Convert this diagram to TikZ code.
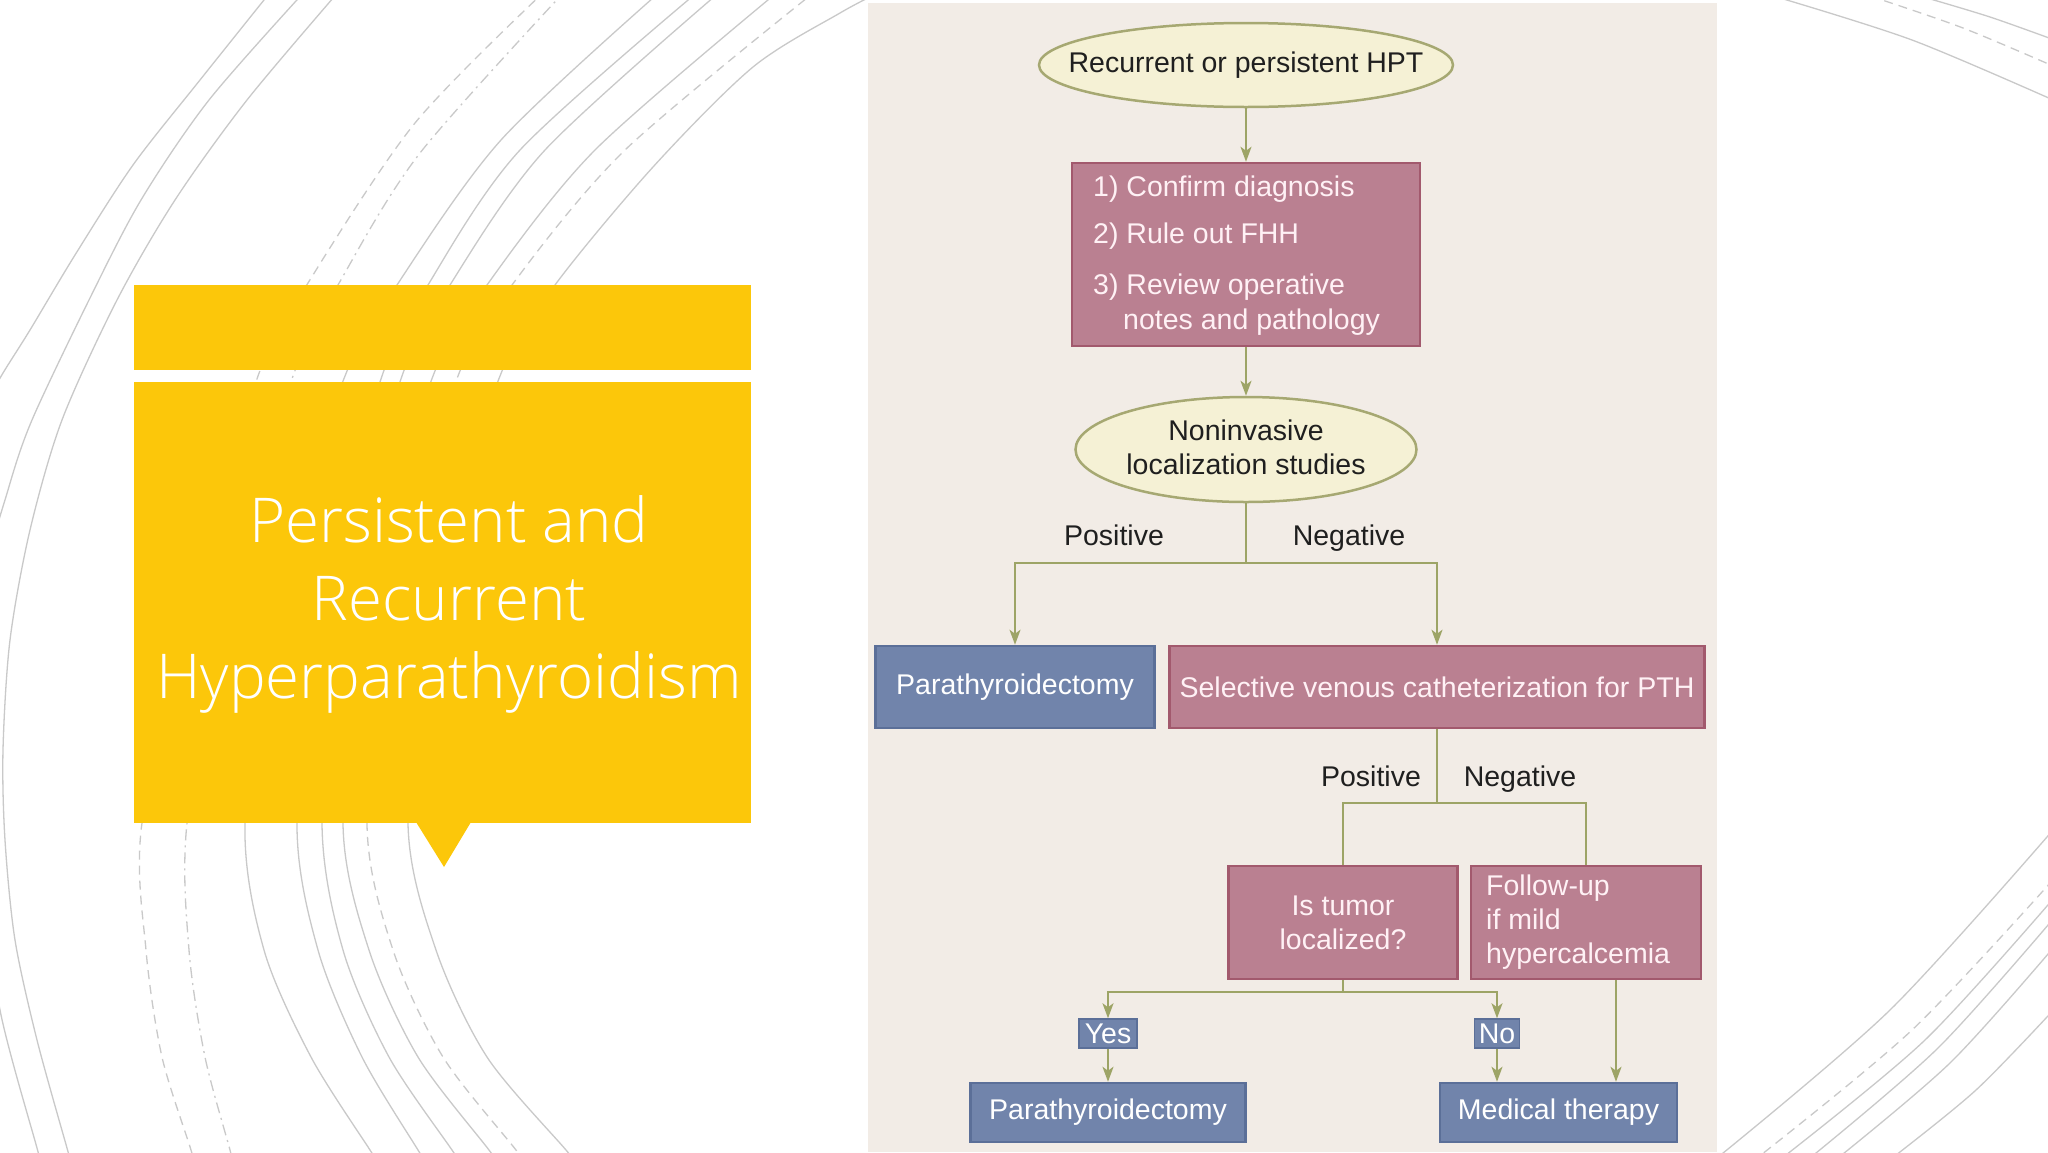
\documentclass[tikz,border=0pt]{standalone}
\usepackage{fontspec}
\setmainfont{Liberation Sans}
\IfFontExistsTF{Open Sans Light}
  {\newfontfamily\titlefont{Open Sans Light}\newcommand\ttlsize{\fontsize{61.8pt}{78pt}\selectfont}}
  {\IfFontExistsTF{Noto Sans Light}
    {\newfontfamily\titlefont{Noto Sans Light}\newcommand\ttlsize{\fontsize{61.8pt}{78pt}\selectfont}}
    {\newfontfamily\titlefont{Carlito}\newcommand\ttlsize{\fontsize{68pt}{78pt}\selectfont}}}
\usetikzlibrary{arrows.meta,shapes.geometric}
\definecolor{yel}{HTML}{FCC70A}
\definecolor{panel}{HTML}{F2ECE6}
\definecolor{arcgray}{HTML}{C9C9C9}
\definecolor{pinkfill}{HTML}{BA8091}
\definecolor{pinkline}{HTML}{A2596D}
\definecolor{pinktext}{HTML}{FFF1F5}
\definecolor{bluefill}{HTML}{7184AB}
\definecolor{blueline}{HTML}{5B6F98}
\definecolor{ovalfill}{HTML}{F5F1D5}
\definecolor{ovalline}{HTML}{A6A872}
\definecolor{connc}{HTML}{9DA466}
\tikzset{
  deco/.style={draw=arcgray, line width=1.3pt},
  decodash/.style={deco, dash pattern=on 9pt off 6pt},
  decodd/.style={deco, dash pattern=on 11pt off 5pt on 2pt off 5pt},
  ftxt/.style={font=\fontsize{28.5pt}{34.2pt}\selectfont},
  pinkbox/.style={rectangle, fill=pinkfill, draw=pinkline, line width=2.5pt, text=pinktext, inner sep=0pt, ftxt},
  bluebox/.style={rectangle, fill=bluefill, draw=blueline, line width=2.5pt, text=white, inner sep=0pt, ftxt},
  oval/.style={ellipse, fill=ovalfill, draw=ovalline, line width=2.5pt, inner sep=0pt},
  lbl/.style={inner sep=0pt, text=black!88, ftxt},
  intxt/.style={inner sep=0pt, text=pinktext, ftxt},
  conn/.style={draw=connc, line width=2pt},
  arr/.style={conn, -{Stealth[length=15pt,width=11pt,inset=4pt]}},
}
\begin{document}
\begin{tikzpicture}[x=1pt,y=-1pt]
\useasboundingbox (0,0) rectangle (2048,1152);
\fill[white] (0,0) rectangle (2048,1152);
% decorative arcs
\begin{scope}
\clip (0,0) rectangle (2048,1152);
\draw[deco] plot[smooth] coordinates {(272,-10) (200,80) (133,165) (75,255) (30,330) (3,373) (-15,405)};
\draw[deco] plot[smooth] coordinates {(306,-10) (209,100) (141,200) (89,300) (32,420) (8,490) (-12,570) (-22,720) (-15,880) (0,1010) (37,1148) (42,1165)};
\draw[deco] plot[smooth] coordinates {(340,-10) (247,100) (175,200) (117,300) (62,420) (30,530) (10,640) (3,750) (5,840) (15,940) (37,1040) (67,1148) (72,1165)};
\draw[decodash] plot[smooth] coordinates {(546,-10) (415,123) (308,283) (258,376) (194,600) (142,823) (146,950) (162,1057) (191,1150) (194,1165)};
\draw[decodd] plot[smooth] coordinates {(566,-10) (420,153) (342,278) (293,376) (225,600) (187,823) (189,950) (205,1057) (230,1150) (233,1165)};
\draw[deco] plot[smooth] coordinates {(662,-10) (501,140) (397,285) (345,376) (272,600) (245,823) (264,950) (311,1057) (370,1150) (380,1165)};
\draw[deco] plot[smooth] coordinates {(700,-10) (520,150) (428,285) (382,376) (320,600) (297,823) (318,950) (362,1057) (418,1150) (428,1165)};
\draw[deco] plot[smooth] coordinates {(722,-10) (545,150) (450,285) (402,376) (340,600) (322,823) (343,950) (389,1057) (452,1150) (462,1165)};
\draw[deco] plot[smooth] coordinates {(780,-10) (595,150) (487,285) (433,376) (365,600) (343,823) (369,950) (418,1057) (489,1150) (499,1165)};
\draw[decodash] plot[smooth] coordinates {(817,-10) (625,150) (512,285) (458,376) (390,600) (367,823) (393,950) (443,1057) (516,1150) (526,1165)};
\draw[deco] plot[smooth] coordinates {(880,-8) (840,13) (753,67) (653,167) (555,285) (500,376) (430,600) (408,823) (436,950) (487,1057) (566,1150) (578,1165)};
% right side arcs
\draw[deco] plot[smooth] coordinates {(1770,-5) (1912,40) (2060,103)};
\draw[decodash] plot[smooth] coordinates {(1870,-4) (1963,28) (2060,69)};
\draw[deco] plot[smooth] coordinates {(1920,-4) (1990,17) (2060,42)};
\draw[deco] plot[smooth] coordinates {(1712,1162) (1890,1010) (2060,822)};
\draw[decodash] plot[smooth] coordinates {(1752,1162) (1912,1030) (2060,872)};
\draw[deco] plot[smooth] coordinates {(1777,1162) (1925,1040) (2060,891)};
\draw[deco] plot[smooth] coordinates {(1805,1162) (1938,1048) (2060,911)};
\draw[deco] plot[smooth] coordinates {(1833,1162) (1951,1062) (2060,940)};
\draw[deco] plot[smooth] coordinates {(1887,1162) (1976,1090) (2060,1003)};
\end{scope}
% title block
\fill[yel] (134,285) rectangle (751,370);
\fill[yel] (134,382) rectangle (751,823);
\fill[yel] (416,822) -- (471,822) -- (444,867) -- cycle;
\node[inner sep=0pt, text=white, align=center, font=\titlefont\ttlsize] (title) at (449,604) {Persistent and\\Recurrent\\Hyperparathyroidism};
% flowchart panel
\fill[panel] (868,3) rectangle (1717,1152);
\node[oval, minimum width=414pt, minimum height=84pt] (e1) at (1246,65) {};
\node[lbl] (e1t) at (e1.center) {Recurrent or persistent HPT};
\node[pinkbox, minimum width=348pt, minimum height=183pt] (box1) at (1246,254.5) {};
\node[intxt, anchor=west, align=left] (box1t) at (1093,256) {1) Confirm diagnosis\\[12.5pt]2) Rule out FHH\\[16.8pt]3) Review operative\\[1pt]\hspace*{30pt}notes and pathology};
\node[oval, minimum width=341pt, minimum height=105pt] (e2) at (1246,449.5) {};
\node[lbl, align=center] (e2t) at ([yshift=2pt]e2.center) {Noninvasive\\localization studies};
\node[bluebox, minimum width=279pt, minimum height=82pt] (par1) at (1015,687) {Parathyroidectomy};
\node[pinkbox, minimum width=535pt, minimum height=82pt] (sel) at (1437,687) {Selective venous catheterization for PTH};
\node[pinkbox, align=center, minimum width=229pt, minimum height=113pt] (tumor) at (1343,922.5) {Is tumor\\localized?};
\node[pinkbox, minimum width=230pt, minimum height=113pt] (follow) at (1586,922.5) {};
\node[intxt, anchor=west, align=left] (followt) at (1486,922) {Follow-up\\if mild\\hypercalcemia};
\node[bluebox, minimum width=58pt, minimum height=29pt, line width=1.5pt] (yes) at (1108,1033.5) {Yes};
\node[bluebox, minimum width=45pt, minimum height=29pt, line width=1.5pt] (no) at (1497,1033.5) {No};
\node[bluebox, minimum width=275pt, minimum height=59pt] (par2) at (1108,1112.5) {Parathyroidectomy};
\node[bluebox, minimum width=237pt, minimum height=59pt] (med) at (1558.5,1112.5) {Medical therapy};
% labels
\node[lbl, anchor=base] (pos1) at (1114,545) {Positive};
\node[lbl, anchor=base] (neg1) at (1349,545) {Negative};
\node[lbl, anchor=base] (pos2) at (1371,786) {Positive};
\node[lbl, anchor=base] (neg2) at (1520,786) {Negative};
% connectors
\coordinate (j1) at (1246,563);
\coordinate (j2) at (1437,803);
\coordinate (j3) at (1343,992);
\coordinate (fs) at ([xshift=30pt]follow.south);
\draw[arr] (e1.south) -- (box1.north);
\draw[arr] (box1.south) -- (e2.north);
\draw[conn] (e2.south) -- (j1);
\draw[arr] (j1) -| (par1.north);
\draw[arr] (j1) -| (sel.north);
\draw[conn] (sel.south) -- (j2);
\draw[conn] (j2) -| (tumor.north);
\draw[conn] (j2) -| (follow.north);
\draw[conn] (tumor.south) -- (j3);
\draw[arr] (j3) -| (yes.north);
\draw[arr] (j3) -| (no.north);
\draw[arr] (yes.south) -- (par2.north);
\draw[arr] (no.south) -- (no.south |- med.north);
\draw[arr] (fs) -- (fs |- med.north);
\end{tikzpicture}
\end{document}
